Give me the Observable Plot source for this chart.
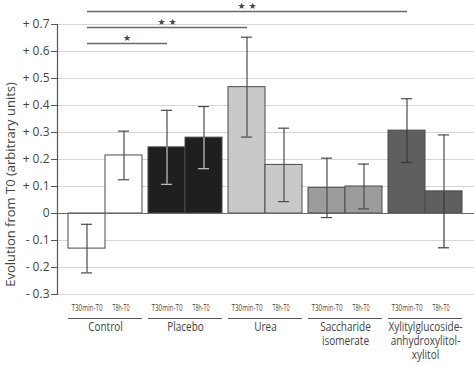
<!DOCTYPE html>
<html>
<head>
<meta charset="utf-8">
<script src="https://cdn.jsdelivr.net/npm/d3@7"></script>
<script src="https://cdn.jsdelivr.net/npm/@observablehq/plot@0.6"></script>
<style>
  html, body { margin: 0; padding: 0; background: #fff; }
  #chart svg { display: block; }
</style>
</head>
<body>
<div id="chart"></div>
<script>
// ---- data ----
const groups = ["Control", "Placebo", "Urea", "Saccharide isomerate", "Xylitylglucoside-anhydroxylitol-xylitol"];
const groupLabels = ["Control", "Placebo", "Urea", "Saccharide\nisomerate", "Xylitylglucoside-\nanhydroxylitol-\nxylitol"];
const timeLabels = ["T30min-T0", "T8h-T0"];
const t30 = [-0.13, 0.245, 0.468, 0.095, 0.307];
const t30err = [0.09, 0.137, 0.185, 0.11, 0.118];
const t8h = [0.215, 0.281, 0.18, 0.1, 0.082];
const t8herr = [0.09, 0.115, 0.136, 0.083, 0.209];
const barFills = ["#ffffff", "#1f1f1f", "#c9c9c9", "#9c9c9c", "#5f5f5f"];
const errInside = ["#4a4a4a", "#c8c8c8", "#4a4a4a", "#4a4a4a", "#3a3a3a"];
const errOutside = "#4a4a4a";
const yTicks = [-0.3, -0.2, -0.1, 0, 0.1, 0.2, 0.3, 0.4, 0.5, 0.6, 0.7];
const sigTargets = ["Placebo", "Urea", "Xylitylglucoside-anhydroxylitol-xylitol"];
const sigLevels = [0.63, 0.689, 0.748];
const sigLabels = ["★", "★ ★", "★ ★"];
const yLabel = "Evolution from T0 (arbitrary units)";

// ---- layout ----
const W = 474, H = 366, mL = 57, mR = 0, mT = 24, mB = 72;
const pIn = 0.072, pOut = 0.134;
const band = d3.scaleBand(groups, [mL, W - mR]).paddingInner(pIn).paddingOuter(pOut).round(true);
const bw = band.bandwidth(), step = band.step();

const rows = groups.map((g, i) => ({
  group: g, label: groupLabels[i],
  t30: t30[i], t30e: t30err[i], t8h: t8h[i], t8he: t8herr[i],
  fill: barFills[i], err: errInside[i]
}));
const sig = sigTargets.map((t, i) => ({target: t, level: sigLevels[i], label: sigLabels[i]}));

const sans = "'Open Sans', 'DejaVu Sans', sans-serif";
const cap = 5.5;
const fmt = d => d === 0 ? "0" : (d > 0 ? "+ " : "- ") + Math.abs(d).toFixed(1);
const ew = 1.2;

const plot = Plot.plot({
  width: W, height: H,
  marginLeft: mL, marginRight: mR, marginTop: mT, marginBottom: mB,
  style: {fontFamily: sans, background: "#fff"},
  x: {type: "band", domain: groups, paddingInner: pIn, paddingOuter: pOut, round: true, axis: null},
  y: {domain: [-0.3, 0.7], axis: null},
  color: {type: "identity"},
  marks: [
    Plot.gridY(yTicks, {stroke: "#d6d6d6", strokeOpacity: 1}),
    Plot.barY(rows, {x: "group", y: "t30", fill: "fill", stroke: "#4a4a4a", strokeWidth: 1, insetRight: bw / 2}),
    Plot.barY(rows, {x: "group", y: "t8h", fill: "fill", stroke: "#4a4a4a", strokeWidth: 1, insetLeft: bw / 2}),
    Plot.ruleY([0], {stroke: "#6a6a6a", strokeWidth: 1.2}),
    // error bars: upper half (outside the bar), lower half (inside the bar)
    Plot.ruleX(rows, {x: "group", y1: "t30", y2: d => d.t30 + d.t30e, dx: -bw / 4, stroke: errOutside, strokeWidth: ew}),
    Plot.ruleX(rows, {x: "group", y1: d => d.t30 - d.t30e, y2: "t30", dx: -bw / 4, stroke: "err", strokeWidth: ew}),
    Plot.ruleX(rows, {x: "group", y1: "t8h", y2: d => d.t8h + d.t8he, dx: bw / 4, stroke: errOutside, strokeWidth: ew}),
    Plot.ruleX(rows, {x: "group", y1: d => d.t8h - d.t8he, y2: "t8h", dx: bw / 4, stroke: "err", strokeWidth: ew}),
    Plot.tickY(rows, {x: "group", y: d => d.t30 + d.t30e, stroke: errOutside, strokeWidth: ew, insetLeft: bw / 4 - cap, insetRight: 3 * bw / 4 - cap}),
    Plot.tickY(rows, {x: "group", y: d => d.t30 - d.t30e, stroke: "err", strokeWidth: ew, insetLeft: bw / 4 - cap, insetRight: 3 * bw / 4 - cap}),
    Plot.tickY(rows, {x: "group", y: d => d.t8h + d.t8he, stroke: errOutside, strokeWidth: ew, insetLeft: 3 * bw / 4 - cap, insetRight: bw / 4 - cap}),
    Plot.tickY(rows, {x: "group", y: d => d.t8h - d.t8he, stroke: "err", strokeWidth: ew, insetLeft: 3 * bw / 4 - cap, insetRight: bw / 4 - cap}),
    // y axis
    Plot.frame({anchor: "left", stroke: "#555", strokeWidth: 1.2}),
    Plot.axisY(yTicks, {tickFormat: fmt, tickSize: 6, tickPadding: 2, fontSize: 12, color: "#555", fill: "#444"}),
    Plot.text([yLabel], {frameAnchor: "left", textAnchor: "middle", rotate: -90, dx: -47, dy: 25, fontSize: 13, fill: "#444"}),
    // category labels
    Plot.text(rows, {x: "group", text: () => timeLabels[0], frameAnchor: "bottom", dy: 16, dx: -bw / 4, fontSize: 8.5, fill: "#444"}),
    Plot.text(rows, {x: "group", text: () => timeLabels[1], frameAnchor: "bottom", dy: 16, dx: bw / 4 - 3, fontSize: 8.5, fill: "#444"}),
    Plot.tickY(rows, {x: "group", y: () => -0.3, dy: 24, stroke: "#555", strokeWidth: 1.2}),
    Plot.text(rows, {x: "group", text: "label", frameAnchor: "bottom", lineAnchor: "top", dy: 27, lineHeight: 1.1, fontSize: 12.5, fill: "#444"}),
    // significance brackets
    Plot.link(sig, {x1: () => "Control", x2: "target", y1: "level", y2: "level", dx: -bw / 4, stroke: "#6a6a6a", strokeWidth: 1.5}),
    ...sig.map(s => Plot.text([s], {x: () => "Control", y: "level", text: "label",
      dx: -bw / 4 + step * groups.indexOf(s.target) / 2, dy: -5, fontSize: 9, fill: "#444", fontFamily: "'DejaVu Sans', sans-serif"}))
  ]
});

document.getElementById("chart").appendChild(plot);

// condensed sub-labels
d3.select(plot).selectAll("text").each(function() {
  const t = this.textContent;
  if (t === timeLabels[0]) { this.setAttribute("textLength", 31); this.setAttribute("lengthAdjust", "spacingAndGlyphs"); }
  if (t === timeLabels[1]) { this.setAttribute("textLength", 17); this.setAttribute("lengthAdjust", "spacingAndGlyphs"); }
});
// condensed group labels
const labelSet = new Set(groupLabels);
d3.select(plot).selectAll("text").each(function() {
  const spans = Array.from(this.querySelectorAll("tspan"));
  const full = spans.length ? spans.map(s => s.textContent).join("\n") : this.textContent;
  if (!labelSet.has(full)) return;
  const parts = spans.length ? spans : [this];
  for (const p of parts) {
    const len = p.getComputedTextLength();
    p.setAttribute("textLength", (len * 0.8).toFixed(1));
    p.setAttribute("lengthAdjust", "spacingAndGlyphs");
  }
});
</script>
</body>
</html>
